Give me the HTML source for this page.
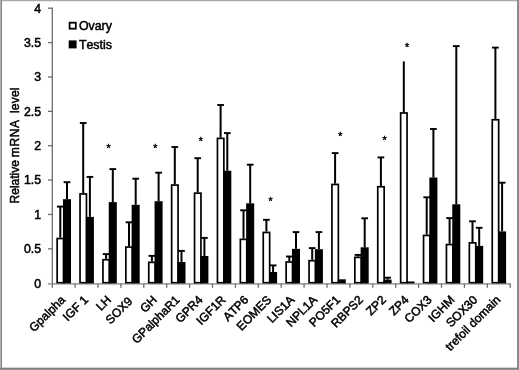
<!DOCTYPE html><html><head><meta charset="utf-8"><title>Relative mRNA level</title>
<style>html,body{margin:0;padding:0;background:#fff}svg{display:block}text{font-family:"Liberation Sans",sans-serif;fill:#000;stroke:#000;stroke-width:0.5px;font-kerning:none}</style></head><body>
<svg width="519" height="370" viewBox="0 0 519 370">
<rect x="0" y="0" width="519" height="370" fill="#fff"/>
<rect x="0" y="0" width="1" height="370" fill="#b0b0b0"/><rect x="1" y="0" width="1" height="370" fill="#858585"/>
<rect x="0" y="0" width="519" height="1" fill="#a8a8a8"/><rect x="2" y="1" width="515" height="1" fill="#ececec"/>
<rect x="517" y="0" width="2" height="370" fill="#8c8c8c"/>
<rect x="2" y="367" width="515" height="1" fill="#d4d4d4"/><rect x="0" y="368" width="519" height="1" fill="#7c7c7c"/><rect x="0" y="369" width="519" height="1" fill="#959595"/>
<g stroke="#6c6c6c" stroke-width="1.3" fill="none">
<line x1="52.3" y1="7.5" x2="52.3" y2="287.8"/>
<line x1="48" y1="283.8" x2="510.6" y2="283.8" stroke="#808080"/>
<line x1="48" y1="8.20" x2="52" y2="8.20"/>
<line x1="48" y1="42.58" x2="52" y2="42.58"/>
<line x1="48" y1="76.95" x2="52" y2="76.95"/>
<line x1="48" y1="111.33" x2="52" y2="111.33"/>
<line x1="48" y1="145.70" x2="52" y2="145.70"/>
<line x1="48" y1="180.07" x2="52" y2="180.07"/>
<line x1="48" y1="214.45" x2="52" y2="214.45"/>
<line x1="48" y1="248.82" x2="52" y2="248.82"/>
<line x1="75.10" y1="283.8" x2="75.10" y2="287.8"/>
<line x1="98.00" y1="283.8" x2="98.00" y2="287.8"/>
<line x1="120.90" y1="283.8" x2="120.90" y2="287.8"/>
<line x1="143.80" y1="283.8" x2="143.80" y2="287.8"/>
<line x1="166.70" y1="283.8" x2="166.70" y2="287.8"/>
<line x1="189.60" y1="283.8" x2="189.60" y2="287.8"/>
<line x1="212.50" y1="283.8" x2="212.50" y2="287.8"/>
<line x1="235.40" y1="283.8" x2="235.40" y2="287.8"/>
<line x1="258.30" y1="283.8" x2="258.30" y2="287.8"/>
<line x1="281.20" y1="283.8" x2="281.20" y2="287.8"/>
<line x1="304.10" y1="283.8" x2="304.10" y2="287.8"/>
<line x1="327.00" y1="283.8" x2="327.00" y2="287.8"/>
<line x1="349.90" y1="283.8" x2="349.90" y2="287.8"/>
<line x1="372.80" y1="283.8" x2="372.80" y2="287.8"/>
<line x1="395.70" y1="283.8" x2="395.70" y2="287.8"/>
<line x1="418.60" y1="283.8" x2="418.60" y2="287.8"/>
<line x1="441.50" y1="283.8" x2="441.50" y2="287.8"/>
<line x1="464.40" y1="283.8" x2="464.40" y2="287.8"/>
<line x1="487.30" y1="283.8" x2="487.30" y2="287.8"/>
<line x1="510.20" y1="283.8" x2="510.20" y2="287.8"/>
</g>
<g font-size="12.3" text-anchor="end">
<text x="41.0" y="12.50">4</text>
<text x="41.0" y="46.88">3.5</text>
<text x="41.0" y="81.25">3</text>
<text x="41.0" y="115.62">2.5</text>
<text x="41.0" y="150.00">2</text>
<text x="41.0" y="184.38">1.5</text>
<text x="41.0" y="218.75">1</text>
<text x="41.0" y="253.12">0.5</text>
<text x="41.0" y="287.50">0</text>
</g>
<text font-size="12" transform="translate(18.7,145.4) rotate(-90)" xml:space="preserve"><tspan x="-58.00" letter-spacing="0">Relative </tspan><tspan x="-11.80" letter-spacing="0.65">mRNA  </tspan><tspan x="32.40" letter-spacing="0.2">level</tspan></text>
<rect x="56.30" y="237.70" width="8.10" height="45.70" fill="#000"/>
<rect x="58.00" y="239.40" width="4.70" height="42.50" fill="#fff"/>
<rect x="59.30" y="206.60" width="2.0" height="31.10" fill="#000"/>
<rect x="56.95" y="205.65" width="6.7" height="1.9" fill="#000"/>
<rect x="62.95" y="199.20" width="8.05" height="84.20" fill="#000"/>
<rect x="66.00" y="182.20" width="2.0" height="17.00" fill="#000"/>
<rect x="63.65" y="181.25" width="6.7" height="1.9" fill="#000"/>
<rect x="79.20" y="193.10" width="8.10" height="90.30" fill="#000"/>
<rect x="80.90" y="194.80" width="4.70" height="87.10" fill="#fff"/>
<rect x="82.20" y="123.00" width="2.0" height="70.10" fill="#000"/>
<rect x="79.85" y="122.05" width="6.7" height="1.9" fill="#000"/>
<rect x="85.85" y="216.90" width="8.05" height="66.50" fill="#000"/>
<rect x="88.90" y="176.90" width="2.0" height="40.00" fill="#000"/>
<rect x="86.55" y="175.95" width="6.7" height="1.9" fill="#000"/>
<rect x="102.10" y="258.90" width="8.10" height="24.50" fill="#000"/>
<rect x="103.80" y="260.60" width="4.70" height="21.30" fill="#fff"/>
<rect x="105.10" y="254.10" width="2.0" height="4.80" fill="#000"/>
<rect x="102.75" y="253.15" width="6.7" height="1.9" fill="#000"/>
<rect x="108.75" y="202.10" width="8.05" height="81.30" fill="#000"/>
<rect x="111.80" y="169.10" width="2.0" height="33.00" fill="#000"/>
<rect x="109.45" y="168.15" width="6.7" height="1.9" fill="#000"/>
<rect x="125.00" y="246.20" width="8.10" height="37.20" fill="#000"/>
<rect x="126.70" y="247.90" width="4.70" height="34.00" fill="#fff"/>
<rect x="128.00" y="222.30" width="2.0" height="23.90" fill="#000"/>
<rect x="125.65" y="221.35" width="6.7" height="1.9" fill="#000"/>
<rect x="131.65" y="204.80" width="8.05" height="78.60" fill="#000"/>
<rect x="134.70" y="178.70" width="2.0" height="26.10" fill="#000"/>
<rect x="132.35" y="177.75" width="6.7" height="1.9" fill="#000"/>
<rect x="147.90" y="261.50" width="8.10" height="21.90" fill="#000"/>
<rect x="149.60" y="263.20" width="4.70" height="18.70" fill="#fff"/>
<rect x="150.90" y="255.85" width="2.0" height="5.65" fill="#000"/>
<rect x="148.55" y="254.90" width="6.7" height="1.9" fill="#000"/>
<rect x="154.55" y="201.20" width="8.05" height="82.20" fill="#000"/>
<rect x="157.60" y="172.70" width="2.0" height="28.50" fill="#000"/>
<rect x="155.25" y="171.75" width="6.7" height="1.9" fill="#000"/>
<rect x="170.80" y="184.20" width="8.10" height="99.20" fill="#000"/>
<rect x="172.50" y="185.90" width="4.70" height="96.00" fill="#fff"/>
<rect x="173.80" y="147.00" width="2.0" height="37.20" fill="#000"/>
<rect x="171.45" y="146.05" width="6.7" height="1.9" fill="#000"/>
<rect x="177.45" y="262.00" width="8.05" height="21.40" fill="#000"/>
<rect x="180.50" y="250.90" width="2.0" height="11.10" fill="#000"/>
<rect x="178.15" y="249.95" width="6.7" height="1.9" fill="#000"/>
<rect x="193.70" y="192.30" width="8.10" height="91.10" fill="#000"/>
<rect x="195.40" y="194.00" width="4.70" height="87.90" fill="#fff"/>
<rect x="196.70" y="158.20" width="2.0" height="34.10" fill="#000"/>
<rect x="194.35" y="157.25" width="6.7" height="1.9" fill="#000"/>
<rect x="200.35" y="256.00" width="8.05" height="27.40" fill="#000"/>
<rect x="203.40" y="237.90" width="2.0" height="18.10" fill="#000"/>
<rect x="201.05" y="236.95" width="6.7" height="1.9" fill="#000"/>
<rect x="216.60" y="137.50" width="8.10" height="145.90" fill="#000"/>
<rect x="218.30" y="139.20" width="4.70" height="142.70" fill="#fff"/>
<rect x="219.60" y="105.00" width="2.0" height="32.50" fill="#000"/>
<rect x="217.25" y="104.05" width="6.7" height="1.9" fill="#000"/>
<rect x="223.25" y="170.70" width="8.05" height="112.70" fill="#000"/>
<rect x="226.30" y="133.10" width="2.0" height="37.60" fill="#000"/>
<rect x="223.95" y="132.15" width="6.7" height="1.9" fill="#000"/>
<rect x="239.50" y="238.50" width="8.10" height="44.90" fill="#000"/>
<rect x="241.20" y="240.20" width="4.70" height="41.70" fill="#fff"/>
<rect x="242.50" y="210.30" width="2.0" height="28.20" fill="#000"/>
<rect x="240.15" y="209.35" width="6.7" height="1.9" fill="#000"/>
<rect x="246.15" y="203.30" width="8.05" height="80.10" fill="#000"/>
<rect x="249.20" y="164.70" width="2.0" height="38.60" fill="#000"/>
<rect x="246.85" y="163.75" width="6.7" height="1.9" fill="#000"/>
<rect x="262.40" y="231.60" width="8.10" height="51.80" fill="#000"/>
<rect x="264.10" y="233.30" width="4.70" height="48.60" fill="#fff"/>
<rect x="265.40" y="219.80" width="2.0" height="11.80" fill="#000"/>
<rect x="263.05" y="218.85" width="6.7" height="1.9" fill="#000"/>
<rect x="269.05" y="272.00" width="8.05" height="11.40" fill="#000"/>
<rect x="272.10" y="265.40" width="2.0" height="6.60" fill="#000"/>
<rect x="269.75" y="264.45" width="6.7" height="1.9" fill="#000"/>
<rect x="285.30" y="261.15" width="8.10" height="22.25" fill="#000"/>
<rect x="287.00" y="262.85" width="4.70" height="19.05" fill="#fff"/>
<rect x="288.30" y="256.50" width="2.0" height="4.65" fill="#000"/>
<rect x="285.95" y="255.55" width="6.7" height="1.9" fill="#000"/>
<rect x="291.95" y="248.85" width="8.05" height="34.55" fill="#000"/>
<rect x="295.00" y="232.10" width="2.0" height="16.75" fill="#000"/>
<rect x="292.65" y="231.15" width="6.7" height="1.9" fill="#000"/>
<rect x="308.20" y="259.85" width="8.10" height="23.55" fill="#000"/>
<rect x="309.90" y="261.55" width="4.70" height="20.35" fill="#fff"/>
<rect x="311.20" y="248.10" width="2.0" height="11.75" fill="#000"/>
<rect x="308.85" y="247.15" width="6.7" height="1.9" fill="#000"/>
<rect x="314.85" y="249.20" width="8.05" height="34.20" fill="#000"/>
<rect x="317.90" y="232.10" width="2.0" height="17.10" fill="#000"/>
<rect x="315.55" y="231.15" width="6.7" height="1.9" fill="#000"/>
<rect x="331.10" y="183.60" width="8.10" height="99.80" fill="#000"/>
<rect x="332.80" y="185.30" width="4.70" height="96.60" fill="#fff"/>
<rect x="334.10" y="153.10" width="2.0" height="30.50" fill="#000"/>
<rect x="331.75" y="152.15" width="6.7" height="1.9" fill="#000"/>
<rect x="337.75" y="279.30" width="8.05" height="4.10" fill="#000"/>
<rect x="354.00" y="256.50" width="8.10" height="26.90" fill="#000"/>
<rect x="355.70" y="258.20" width="4.70" height="23.70" fill="#fff"/>
<rect x="357.00" y="254.90" width="2.0" height="1.60" fill="#000"/>
<rect x="354.65" y="253.95" width="6.7" height="1.9" fill="#000"/>
<rect x="360.65" y="247.30" width="8.05" height="36.10" fill="#000"/>
<rect x="363.70" y="218.30" width="2.0" height="29.00" fill="#000"/>
<rect x="361.35" y="217.35" width="6.7" height="1.9" fill="#000"/>
<rect x="376.90" y="185.90" width="8.10" height="97.50" fill="#000"/>
<rect x="378.60" y="187.60" width="4.70" height="94.30" fill="#fff"/>
<rect x="379.90" y="157.40" width="2.0" height="28.50" fill="#000"/>
<rect x="377.55" y="156.45" width="6.7" height="1.9" fill="#000"/>
<rect x="383.55" y="279.60" width="8.05" height="3.80" fill="#000"/>
<rect x="386.60" y="277.70" width="2.0" height="1.90" fill="#000"/>
<rect x="384.25" y="276.75" width="6.7" height="1.9" fill="#000"/>
<rect x="399.80" y="112.10" width="8.10" height="171.30" fill="#000"/>
<rect x="401.50" y="113.80" width="4.70" height="168.10" fill="#fff"/>
<rect x="402.80" y="61.40" width="2.0" height="50.70" fill="#000"/>
<rect x="406.45" y="281.50" width="8.05" height="1.90" fill="#000"/>
<rect x="422.70" y="234.60" width="8.10" height="48.80" fill="#000"/>
<rect x="424.40" y="236.30" width="4.70" height="45.60" fill="#fff"/>
<rect x="425.70" y="197.30" width="2.0" height="37.30" fill="#000"/>
<rect x="423.35" y="196.35" width="6.7" height="1.9" fill="#000"/>
<rect x="429.35" y="177.50" width="8.05" height="105.90" fill="#000"/>
<rect x="432.40" y="129.00" width="2.0" height="48.50" fill="#000"/>
<rect x="430.05" y="128.05" width="6.7" height="1.9" fill="#000"/>
<rect x="445.60" y="243.70" width="8.10" height="39.70" fill="#000"/>
<rect x="447.30" y="245.40" width="4.70" height="36.50" fill="#fff"/>
<rect x="448.60" y="218.10" width="2.0" height="25.60" fill="#000"/>
<rect x="446.25" y="217.15" width="6.7" height="1.9" fill="#000"/>
<rect x="452.25" y="204.30" width="8.05" height="79.10" fill="#000"/>
<rect x="455.30" y="46.10" width="2.0" height="158.20" fill="#000"/>
<rect x="452.95" y="45.15" width="6.7" height="1.9" fill="#000"/>
<rect x="468.50" y="242.00" width="8.10" height="41.40" fill="#000"/>
<rect x="470.20" y="243.70" width="4.70" height="38.20" fill="#fff"/>
<rect x="471.50" y="221.30" width="2.0" height="20.70" fill="#000"/>
<rect x="469.15" y="220.35" width="6.7" height="1.9" fill="#000"/>
<rect x="475.15" y="245.90" width="8.05" height="37.50" fill="#000"/>
<rect x="478.20" y="227.80" width="2.0" height="18.10" fill="#000"/>
<rect x="475.85" y="226.85" width="6.7" height="1.9" fill="#000"/>
<rect x="491.40" y="118.90" width="8.10" height="164.50" fill="#000"/>
<rect x="493.10" y="120.60" width="4.70" height="161.30" fill="#fff"/>
<rect x="494.40" y="47.60" width="2.0" height="71.30" fill="#000"/>
<rect x="492.05" y="46.65" width="6.7" height="1.9" fill="#000"/>
<rect x="498.05" y="231.40" width="8.05" height="52.00" fill="#000"/>
<rect x="501.10" y="182.70" width="2.0" height="48.70" fill="#000"/>
<rect x="498.75" y="181.75" width="6.7" height="1.9" fill="#000"/>
<g font-size="10.6" text-anchor="middle" style="stroke-width:0.25px">
<text x="108.6" y="152.40" style="stroke-width:0.4px">*</text>
<text x="155.3" y="152.40" style="stroke-width:0.4px">*</text>
<text x="200.9" y="145.00" style="stroke-width:0.4px">*</text>
<text x="270.5" y="205.10" style="stroke-width:0.4px">*</text>
<text x="340.4" y="139.70" style="stroke-width:0.4px">*</text>
<text x="384.5" y="143.70" style="stroke-width:0.4px">*</text>
<text x="407" y="51.40" style="stroke-width:0.4px">*</text>
</g>
<g font-size="12" text-anchor="end">
<text transform="translate(66.05,300.50) rotate(-45)">Gpalpha</text>
<text transform="translate(88.95,300.50) rotate(-45)">IGF 1</text>
<text transform="translate(111.85,300.50) rotate(-45)">LH</text>
<text transform="translate(133.12,302.13) rotate(-45)">SOX9</text>
<text transform="translate(157.65,300.50) rotate(-45)">GH</text>
<text transform="translate(180.55,300.50) rotate(-45)">GPalphaR1</text>
<text transform="translate(203.45,300.50) rotate(-45)">GPR4</text>
<text transform="translate(226.35,300.50) rotate(-45)">IGF1R</text>
<text transform="translate(249.25,300.50) rotate(-45)">ATP6</text>
<text transform="translate(272.15,300.50) rotate(-45)">EOMES</text>
<text transform="translate(295.05,300.50) rotate(-45)">LIS1A</text>
<text transform="translate(317.95,300.50) rotate(-45)">NPL1A</text>
<text transform="translate(340.85,300.50) rotate(-45)">PO5F1</text>
<text transform="translate(363.75,300.50) rotate(-45)">RBPS2</text>
<text transform="translate(386.65,300.50) rotate(-45)">ZP2</text>
<text transform="translate(409.55,300.50) rotate(-45)">ZP4</text>
<text transform="translate(432.45,300.50) rotate(-45)">COX3</text>
<text transform="translate(455.35,300.50) rotate(-45)">IGHM</text>
<text transform="translate(478.25,300.50) rotate(-45)">SOX30</text>
<text transform="translate(501.15,300.50) rotate(-45)">trefoil domain</text>
</g>
<rect x="69.6" y="22.7" width="6.2" height="6.0" fill="#fff" stroke="#000" stroke-width="1.8"/>
<rect x="68.7" y="40.4" width="7.9" height="8" fill="#000"/>
<text x="78.9" y="29.6" font-size="12.4">Ovary</text>
<text x="78.9" y="48.5" font-size="12.4">Testis</text>
</svg></body></html>
